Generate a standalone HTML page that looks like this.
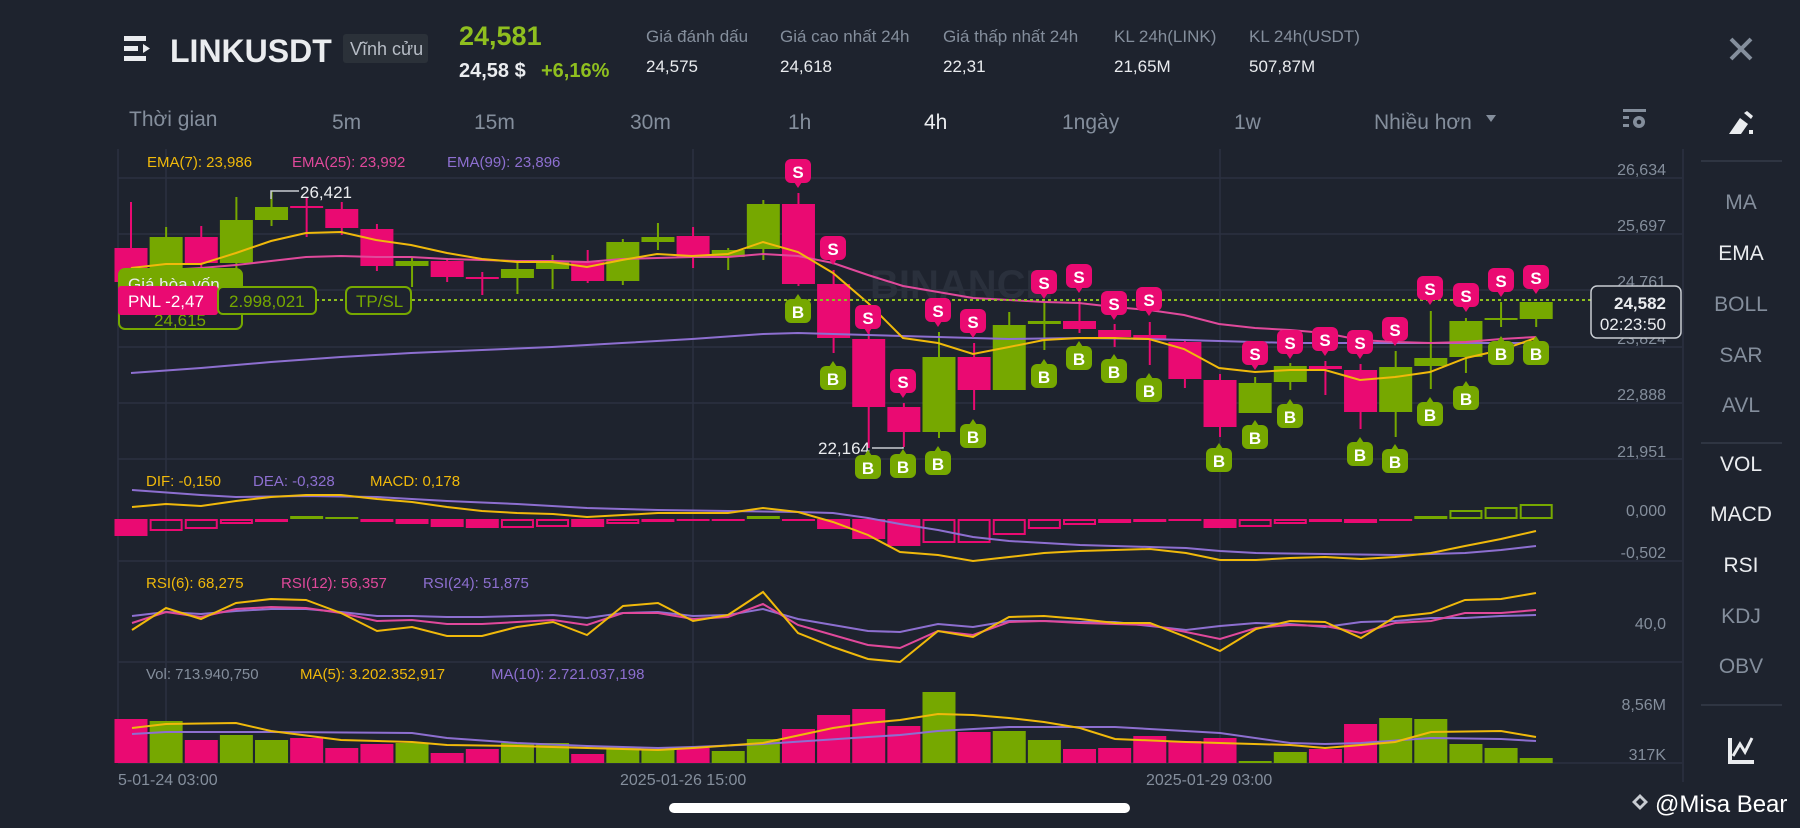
<!DOCTYPE html>
<html><head><meta charset="utf-8">
<style>
html,body{margin:0;padding:0;background:#1e232e;}
svg{display:block;font-family:"Liberation Sans","Noto Sans CJK SC",sans-serif;}
.g{fill:#848e9c}
.ax{fill:#848e9c;font-size:16px;text-anchor:end}
.tab{fill:#848e9c;font-size:21px}
.sb{font-size:21px;text-anchor:middle;fill:#848e9c}
.mk{font-size:17px;fill:#fff;text-anchor:middle;font-weight:bold}
</style></head>
<body>
<svg width="1800" height="828" viewBox="0 0 1800 828" xmlns="http://www.w3.org/2000/svg">
<defs>
<g id="ms"><rect x="-13" y="-13" width="26" height="24" rx="6" fill="#ea0a72"/><path d="M-4,10 L0,16 L4,10Z" fill="#ea0a72"/></g>
<g id="mb"><rect x="-13" y="-11" width="26" height="24" rx="6" fill="#76a800"/><path d="M-4,-10 L0,-16 L4,-10Z" fill="#76a800"/></g>
</defs>
<rect width="1800" height="828" fill="#1e232e"/>

<!-- header -->
<rect x="124" y="36" width="22" height="5" fill="#eaecef"/><rect x="124" y="46" width="14" height="5" fill="#eaecef"/><path d="M143,44 L150,48.5 L143,53Z" fill="#eaecef"/><rect x="124" y="56" width="22" height="5" fill="#eaecef"/>
<text x="170" y="62" font-size="32" font-weight="bold" fill="#eaecef">LINKUSDT</text>
<rect x="343" y="34" width="85" height="29" rx="3" fill="#2b3139"/>
<text x="350" y="55" font-size="18" fill="#b7bdc6">Vĩnh cửu</text>
<text x="459" y="45" font-size="27" font-weight="bold" fill="#8fbf1f">24,581</text>
<text x="459" y="77" font-size="20" fill="#eaecef" font-weight="bold">24,58 $</text>
<text x="541" y="77" font-size="20" fill="#8fbf1f" font-weight="bold">+6,16%</text>
<g font-size="17" class="g">
<text x="646" y="42">Giá đánh dấu</text><text x="780" y="42">Giá cao nhất 24h</text><text x="943" y="42">Giá thấp nhất 24h</text><text x="1114" y="42">KL 24h(LINK)</text><text x="1249" y="42">KL 24h(USDT)</text>
</g>
<g font-size="17" fill="#eaecef">
<text x="646" y="72">24,575</text><text x="780" y="72">24,618</text><text x="943" y="72">22,31</text><text x="1114" y="72">21,65M</text><text x="1249" y="72">507,87M</text>
</g>
<path d="M1731,39 L1751,59 M1751,39 L1731,59" stroke="#848e9c" stroke-width="4"/>

<!-- tabs -->
<text x="129" y="126" class="tab">Thời gian</text>
<text x="332" y="129" class="tab">5m</text>
<text x="474" y="129" class="tab">15m</text>
<text x="630" y="129" class="tab">30m</text>
<text x="788" y="129" class="tab">1h</text>
<text x="924" y="129" class="tab" style="fill:#eaecef">4h</text>
<text x="1062" y="129" class="tab">1ngày</text>
<text x="1234" y="129" class="tab">1w</text>
<text x="1374" y="129" class="tab">Nhiều hơn</text>
<path d="M1486,115 L1496,115 L1491,122Z" fill="#848e9c"/>
<rect x="1623" y="109" width="23" height="3" fill="#848e9c"/><rect x="1623" y="116" width="6" height="3" fill="#848e9c"/><rect x="1623" y="124" width="6" height="3" fill="#848e9c"/><circle cx="1639" cy="122" r="6" fill="#848e9c"/><circle cx="1639" cy="122" r="2.3" fill="#1e232e"/>
<path d="M1729,134 L1740,118 L1748,124 L1741,134Z" fill="#eaecef"/><path d="M1744,113 L1747,111 L1753,116 L1751,119Z" fill="#eaecef"/><rect x="1749" y="130" width="4" height="4" fill="#eaecef"/>

<!-- sidebar -->
<g stroke="#2f3542" stroke-width="2"><line x1="1701" y1="161" x2="1782" y2="161"/><line x1="1701" y1="443" x2="1782" y2="443"/><line x1="1701" y1="705" x2="1782" y2="705"/></g>
<text x="1741" y="209" class="sb">MA</text>
<text x="1741" y="260" class="sb" style="fill:#eaecef">EMA</text>
<text x="1741" y="311" class="sb">BOLL</text>
<text x="1741" y="362" class="sb">SAR</text>
<text x="1741" y="412" class="sb">AVL</text>
<text x="1741" y="471" class="sb" style="fill:#eaecef">VOL</text>
<text x="1741" y="521" class="sb" style="fill:#eaecef">MACD</text>
<text x="1741" y="572" class="sb" style="fill:#eaecef">RSI</text>
<text x="1741" y="623" class="sb">KDJ</text>
<text x="1741" y="673" class="sb">OBV</text>
<path d="M1730,738 L1730,762 L1754,762" stroke="#eaecef" stroke-width="4" fill="none"/><path d="M1733,756 L1740,744 L1745,752 L1752,738" stroke="#eaecef" stroke-width="3" fill="none"/>

<!-- grid -->
<g stroke="#2b3140" stroke-width="1.5">
<line x1="118" y1="178" x2="1682" y2="178"/><line x1="118" y1="234" x2="1682" y2="234"/><line x1="118" y1="290" x2="1682" y2="290"/><line x1="118" y1="347" x2="1682" y2="347"/><line x1="118" y1="403" x2="1682" y2="403"/><line x1="118" y1="459" x2="1682" y2="459"/><line x1="118" y1="561" x2="1682" y2="561"/><line x1="118" y1="662" x2="1682" y2="662"/><line x1="118" y1="763" x2="1682" y2="763"/>
<line x1="118" y1="149" x2="118" y2="763"/><line x1="166" y1="149" x2="166" y2="763"/><line x1="693" y1="149" x2="693" y2="763"/><line x1="1220" y1="149" x2="1220" y2="763"/><line x1="1683" y1="149" x2="1683" y2="782"/>
</g>
<text x="870" y="298" font-size="40" font-weight="bold" fill="#2a303c">BINANCE</text>

<!-- axis labels -->
<text x="1666" y="175" class="ax">26,634</text><text x="1666" y="231" class="ax">25,697</text><text x="1666" y="287" class="ax">24,761</text><text x="1666" y="344" class="ax">23,824</text><text x="1666" y="400" class="ax">22,888</text><text x="1666" y="457" class="ax">21,951</text>
<text x="1666" y="516" class="ax">0,000</text><text x="1666" y="558" class="ax">-0,502</text>
<text x="1666" y="629" class="ax">40,0</text>
<text x="1666" y="710" class="ax">8,56M</text><text x="1666" y="760" class="ax">317K</text>
<text x="118" y="785" font-size="16" class="g">5-01-24 03:00</text>
<text x="620" y="785" font-size="16" class="g">2025-01-26 15:00</text>
<text x="1146" y="785" font-size="16" class="g">2025-01-29 03:00</text>

<!-- indicator titles -->
<g font-size="15">
<text x="147" y="167" fill="#f0b90b">EMA(7): 23,986</text><text x="292" y="167" fill="#e0499b">EMA(25): 23,992</text><text x="447" y="167" fill="#8d6fd0">EMA(99): 23,896</text>
<text x="146" y="486" fill="#f0b90b">DIF: -0,150</text><text x="253" y="486" fill="#8d6fd0">DEA: -0,328</text><text x="370" y="486" fill="#f0b90b">MACD: 0,178</text>
<text x="146" y="588" fill="#f0b90b">RSI(6): 68,275</text><text x="281" y="588" fill="#e0499b">RSI(12): 56,357</text><text x="423" y="588" fill="#8d6fd0">RSI(24): 51,875</text>
<text x="146" y="679" fill="#848e9c">Vol: 713.940,750</text><text x="300" y="679" fill="#f0b90b">MA(5): 3.202.352,917</text><text x="491" y="679" fill="#8d6fd0">MA(10): 2.721.037,198</text>
</g>

<g id="cand"></g>
<g id="macdh"></g>
<g id="volb"></g>

<!-- main lines -->
<g fill="none" stroke-width="2">
<polyline stroke="#8d6fd0" points="131,373 201,368 271,362 341,357 411,353 482,350 552,347 622,343 692,339 763,334 798,333 868,335 938,337 1009,339 1079,338 1149,339 1219,341 1290,343 1360,343 1430,343 1501,343 1536,343"/>
<polyline stroke="#e0499b" points="131,272 166,270 201,268 236,265 271,261 306,257 341,256 376,257 411,257 447,259 482,260 517,261 552,261 587,262 622,259 657,258 692,257 728,257 763,254 798,256 833,263 868,275 903,286 938,292 973,298 1009,300 1044,302 1079,303 1114,307 1149,310 1184,315 1219,324 1255,328 1290,330 1325,333 1360,340 1395,342 1430,343 1466,342 1501,339 1536,337"/>
<polyline stroke="#f0b90b" points="131,268 166,264 201,264 236,253 271,241 306,233 341,232 376,240 411,245 447,253 482,259 517,262 552,262 587,267 622,260 657,254 692,256 728,254 763,242 798,252 833,273 868,303 903,338 938,343 973,354 1009,347 1044,340 1079,338 1114,338 1149,339 1184,349 1219,368 1255,372 1290,370 1325,370 1360,380 1395,377 1430,372 1466,358 1501,350 1536,338"/>
<!-- macd -->
<polyline stroke="#8d6fd0" points="132,490 201,495 236,497 306,496 377,497 447,501 517,504 587,508 658,510 728,511 798,512 833,513 868,518 900,524 938,530 973,537 1009,541 1080,545 1150,547 1186,548 1220,551 1256,553 1325,554 1395,555 1431,554 1465,553 1501,550 1536,546"/>
<polyline stroke="#f0b90b" points="132,507 166,504 201,506 236,501 271,497 306,495 341,495 377,499 412,502 447,507 482,511 517,513 553,514 587,517 623,515 658,513 693,513 728,513 763,508 798,512 833,522 868,535 900,552 938,555 973,561 1009,557 1044,553 1080,551 1115,550 1150,549 1186,553 1220,560 1256,560 1290,558 1325,557 1361,559 1395,557 1431,553 1465,546 1501,539 1536,531"/>
<!-- rsi -->
<polyline stroke="#8d6fd0" points="132,616 166,612 201,614 236,611 271,609 306,609 341,612 377,616 412,616 447,617 482,617 517,616 553,615 587,618 623,613 658,612 693,616 728,615 763,609 798,619 833,625 868,631 900,632 938,624 973,627 1009,621 1044,621 1080,622 1115,622 1150,626 1186,630 1220,626 1256,623 1290,624 1325,627 1361,622 1395,621 1431,618 1465,618 1501,616 1536,615"/>
<polyline stroke="#e0499b" points="132,623 166,612 201,617 236,609 271,607 306,608 341,613 377,621 412,620 447,624 482,624 517,622 553,620 587,625 623,613 658,613 693,619 728,617 763,604 798,625 833,635 868,645 900,648 938,631 973,635 1009,622 1044,621 1080,623 1115,624 1150,625 1186,632 1220,639 1256,628 1290,625 1325,626 1361,633 1395,623 1431,621 1465,613 1501,613 1536,610"/>
<polyline stroke="#f0b90b" points="132,630 166,608 201,619 236,603 271,599 306,600 341,613 377,631 412,627 447,636 482,636 517,627 553,622 587,635 623,606 658,603 693,621 728,615 763,592 798,633 833,647 868,659 900,662 938,631 973,637 1009,617 1044,616 1080,619 1115,623 1150,623 1186,637 1220,651 1256,629 1290,621 1325,622 1361,638 1395,617 1431,613 1465,600 1501,599 1536,593"/>
</g>
<g fill="none" stroke-width="2" id="vlines">
<polyline stroke="#8d6fd0" points="132,734 166,732 271,732 412,733 447,738 517,743 587,746 658,748 693,747 763,744 868,737 900,735 938,731 1009,727 1115,727 1220,733 1290,743 1325,744 1361,743 1431,738 1501,739 1536,741"/>
<polyline stroke="#f0b90b" points="132,728 166,724 236,723 271,731 341,740 412,742 447,745 517,746 587,748 658,750 693,748 763,743 833,728 868,723 900,720 938,714 973,715 1009,718 1044,722 1080,728 1115,739 1186,742 1220,743 1290,745 1325,748 1361,745 1395,742 1431,732 1501,731 1536,737"/>
</g>

<!-- overlays -->
<line x1="118" y1="300" x2="1592" y2="300" stroke="#8fbf1f" stroke-width="2" stroke-dasharray="3,3"/>
<path d="M271,199 L271,191 L299,191" stroke="#c8ccd2" stroke-width="1.5" fill="none"/>
<text x="300" y="198" font-size="17" fill="#eaecef">26,421</text>
<path d="M903,447 L903,448 L872,448" stroke="#c8ccd2" stroke-width="1.5" fill="none"/>
<text x="870" y="454" font-size="17" fill="#eaecef" text-anchor="end">22,164</text>

<rect x="119" y="269" width="123" height="60" rx="6" fill="#1e232e" stroke="#76a800" stroke-width="2"/>
<path d="M119,290 L119,275 Q119,269 125,269 L236,269 Q242,269 242,275 L242,290Z" fill="#76a800"/>
<text x="128" y="290" font-size="17" fill="#eaecef">Giá hòa vốn</text>
<text x="180" y="326" font-size="17" fill="#76a800" text-anchor="middle">24,615</text>
<rect x="118" y="286" width="100" height="29" rx="3" fill="#ea0a72"/>
<text x="128" y="307" font-size="17" fill="#fff">PNL -2,47</text>
<rect x="218" y="287" width="98" height="27" rx="5" fill="#1e232e" stroke="#76a800" stroke-width="2"/>
<text x="229" y="307" font-size="17" fill="#76a800">2.998,021</text>
<rect x="346" y="287" width="65" height="27" rx="6" fill="#1e232e" stroke="#76a800" stroke-width="2"/>
<text x="356" y="307" font-size="17" fill="#76a800">TP/SL</text>

<rect x="1591" y="286" width="90" height="52" rx="6" fill="#1e232e" stroke="#c8ccd2" stroke-width="1.5"/>
<text x="1666" y="309" font-size="17" fill="#eaecef" text-anchor="end" font-weight="bold">24,582</text>
<text x="1666" y="330" font-size="17" fill="#eaecef" text-anchor="end">02:23:50</text>

<!-- markers -->
<g id="marks">
<g transform="translate(798,172)"><use href="#ms"/><text class="mk" y="6">S</text></g>
<g transform="translate(833,249)"><use href="#ms"/><text class="mk" y="6">S</text></g>
<g transform="translate(868,318)"><use href="#ms"/><text class="mk" y="6">S</text></g>
<g transform="translate(903,382)"><use href="#ms"/><text class="mk" y="6">S</text></g>
<g transform="translate(938,311)"><use href="#ms"/><text class="mk" y="6">S</text></g>
<g transform="translate(973,322)"><use href="#ms"/><text class="mk" y="6">S</text></g>
<g transform="translate(1044,283)"><use href="#ms"/><text class="mk" y="6">S</text></g>
<g transform="translate(1079,277)"><use href="#ms"/><text class="mk" y="6">S</text></g>
<g transform="translate(1114,304)"><use href="#ms"/><text class="mk" y="6">S</text></g>
<g transform="translate(1149,300)"><use href="#ms"/><text class="mk" y="6">S</text></g>
<g transform="translate(1255,354)"><use href="#ms"/><text class="mk" y="6">S</text></g>
<g transform="translate(1290,343)"><use href="#ms"/><text class="mk" y="6">S</text></g>
<g transform="translate(1325,340)"><use href="#ms"/><text class="mk" y="6">S</text></g>
<g transform="translate(1360,343)"><use href="#ms"/><text class="mk" y="6">S</text></g>
<g transform="translate(1395,330)"><use href="#ms"/><text class="mk" y="6">S</text></g>
<g transform="translate(1430,289)"><use href="#ms"/><text class="mk" y="6">S</text></g>
<g transform="translate(1466,296)"><use href="#ms"/><text class="mk" y="6">S</text></g>
<g transform="translate(1501,281)"><use href="#ms"/><text class="mk" y="6">S</text></g>
<g transform="translate(1536,278)"><use href="#ms"/><text class="mk" y="6">S</text></g>
<g transform="translate(798,310)"><use href="#mb"/><text class="mk" y="8">B</text></g>
<g transform="translate(833,377)"><use href="#mb"/><text class="mk" y="8">B</text></g>
<g transform="translate(868,466)"><use href="#mb"/><text class="mk" y="8">B</text></g>
<g transform="translate(903,465)"><use href="#mb"/><text class="mk" y="8">B</text></g>
<g transform="translate(938,462)"><use href="#mb"/><text class="mk" y="8">B</text></g>
<g transform="translate(973,435)"><use href="#mb"/><text class="mk" y="8">B</text></g>
<g transform="translate(1044,375)"><use href="#mb"/><text class="mk" y="8">B</text></g>
<g transform="translate(1079,357)"><use href="#mb"/><text class="mk" y="8">B</text></g>
<g transform="translate(1114,370)"><use href="#mb"/><text class="mk" y="8">B</text></g>
<g transform="translate(1149,389)"><use href="#mb"/><text class="mk" y="8">B</text></g>
<g transform="translate(1219,459)"><use href="#mb"/><text class="mk" y="8">B</text></g>
<g transform="translate(1255,436)"><use href="#mb"/><text class="mk" y="8">B</text></g>
<g transform="translate(1290,415)"><use href="#mb"/><text class="mk" y="8">B</text></g>
<g transform="translate(1360,453)"><use href="#mb"/><text class="mk" y="8">B</text></g>
<g transform="translate(1395,460)"><use href="#mb"/><text class="mk" y="8">B</text></g>
<g transform="translate(1430,413)"><use href="#mb"/><text class="mk" y="8">B</text></g>
<g transform="translate(1466,397)"><use href="#mb"/><text class="mk" y="8">B</text></g>
<g transform="translate(1501,352)"><use href="#mb"/><text class="mk" y="8">B</text></g>
<g transform="translate(1536,352)"><use href="#mb"/><text class="mk" y="8">B</text></g>
</g>

<!-- bottom -->
<rect x="669" y="803" width="461" height="10" rx="5" fill="#fff"/>
<path d="M1640,794 L1648,802 L1640,810 L1632,802Z M1640,798 L1644,802 L1640,806 L1636,802Z" fill="#c8ccd2" fill-rule="evenodd"/>
<text x="1655" y="812" font-size="24" fill="#fff">@Misa Bear</text>
</svg>
<script>
(function(){
var NS="http://www.w3.org/2000/svg",R="#ea0a72",G="#76a800";
function el(p,t,a){var e=document.createElementNS(NS,t);for(var k in a)e.setAttribute(k,a[k]);p.appendChild(e);return e;}
var C=[["r",248,282,202,290],["g",237,278,227,285],["r",237,263,226,275],["g",220,263,197,270],["g",207,220,191,226],["r",206,208,197,237],["r",209,228,202,235],["r",229,266,224,271],["g",261,266,258,287],["r",261,277,258,282],["r",277,279,272,295],["g",269,278,263,294],["g",262,269,255,289],["r",262,281,250,283],["g",242,281,239,285],["g",237,242,223,250],["r",236,257,227,268],["g",250,257,248,270],["g",204,249,200,260],["r",204,284,193,286],["r",284,338,270,353],["r",339,407,316,448],["r",407,432,403,447],["g",357,432,332,438],["r",357,390,343,410],["g",325,390,312,390],["g",321,324,303,350],["r",321,329,298,333],["r",330,337,324,347],["r",335,340,322,365],["r",342,379,340,388],["r",380,427,374,437],["g",383,413,377,413],["g",366,382,363,390],["r",366,369,361,395],["r",370,412,364,429],["g",367,412,351,437],["g",358,366,311,389],["g",321,357,318,373],["g",318,320,302,327],["g",302,319,302,327]];
var cg=document.getElementById("cand");
C.forEach(function(c,i){var x=131+35.13*i,col=c[0]=="g"?G:R;
el(cg,"line",{x1:x,x2:x,y1:c[3],y2:c[4],stroke:col,"stroke-width":2});
el(cg,"rect",{x:x-16.5,y:c[1],width:33,height:Math.max(2,c[2]-c[1]),fill:col});});
// macd hist: [val(top or bottom y), type] type: f=filled red, h=hollow red, gf green filled, gh green hollow
var M=[[536,"f"],[531,"h"],[529,"h"],[524,"h"],[522,"f"],[516,"gf"],[517,"gf"],[522,"f"],[524,"f"],[527,"f"],[528,"f"],[528,"h"],[527,"h"],[527,"f"],[524,"h"],[522,"h"],[521,"f"],[521,"f"],[516,"gh"],[520,"f"],[529,"f"],[539,"f"],[546,"f"],[543,"h"],[543,"h"],[535,"h"],[529,"h"],[525,"h"],[523,"h"],[522,"h"],[521,"f"],[528,"f"],[527,"h"],[524,"h"],[522,"h"],[523,"f"],[521,"f"],[516,"gh"],[510,"gh"],[507,"gh"],[504,"gh"]];
var mg=document.getElementById("macdh"),z=519;
M.forEach(function(m,i){var x=131+35.13*i-16.5,v=m[0],t=m[1],col=t[0]=="g"?G:R;
var y=Math.min(v,z),h=Math.max(2,Math.abs(v-z));
if(t=="f"||t=="gf")el(mg,"rect",{x:x,y:y,width:33,height:h,fill:col});
else el(mg,"rect",{x:x+1,y:y+1,width:31,height:Math.max(1,h-2),fill:"none",stroke:col,"stroke-width":2});});
var V=[[719,"r"],[721,"g"],[740,"r"],[735,"g"],[740,"g"],[738,"r"],[748,"r"],[744,"r"],[743,"g"],[753,"r"],[749,"r"],[743,"g"],[743,"g"],[754,"r"],[747,"g"],[749,"g"],[748,"r"],[751,"g"],[739,"g"],[729,"r"],[715,"r"],[709,"r"],[726,"r"],[692,"g"],[732,"r"],[731,"g"],[740,"g"],[749,"r"],[748,"r"],[736,"r"],[741,"r"],[738,"r"],[761,"g"],[752,"g"],[749,"r"],[724,"r"],[718,"g"],[719,"g"],[744,"g"],[748,"g"],[758,"g"]];
var vg=document.getElementById("volb");
V.forEach(function(v,i){var x=131+35.13*i-16.5;el(vg,"rect",{x:x,y:v[0],width:33,height:763-v[0],fill:v[1]=="g"?G:R});});
})();
</script>
</body></html>
